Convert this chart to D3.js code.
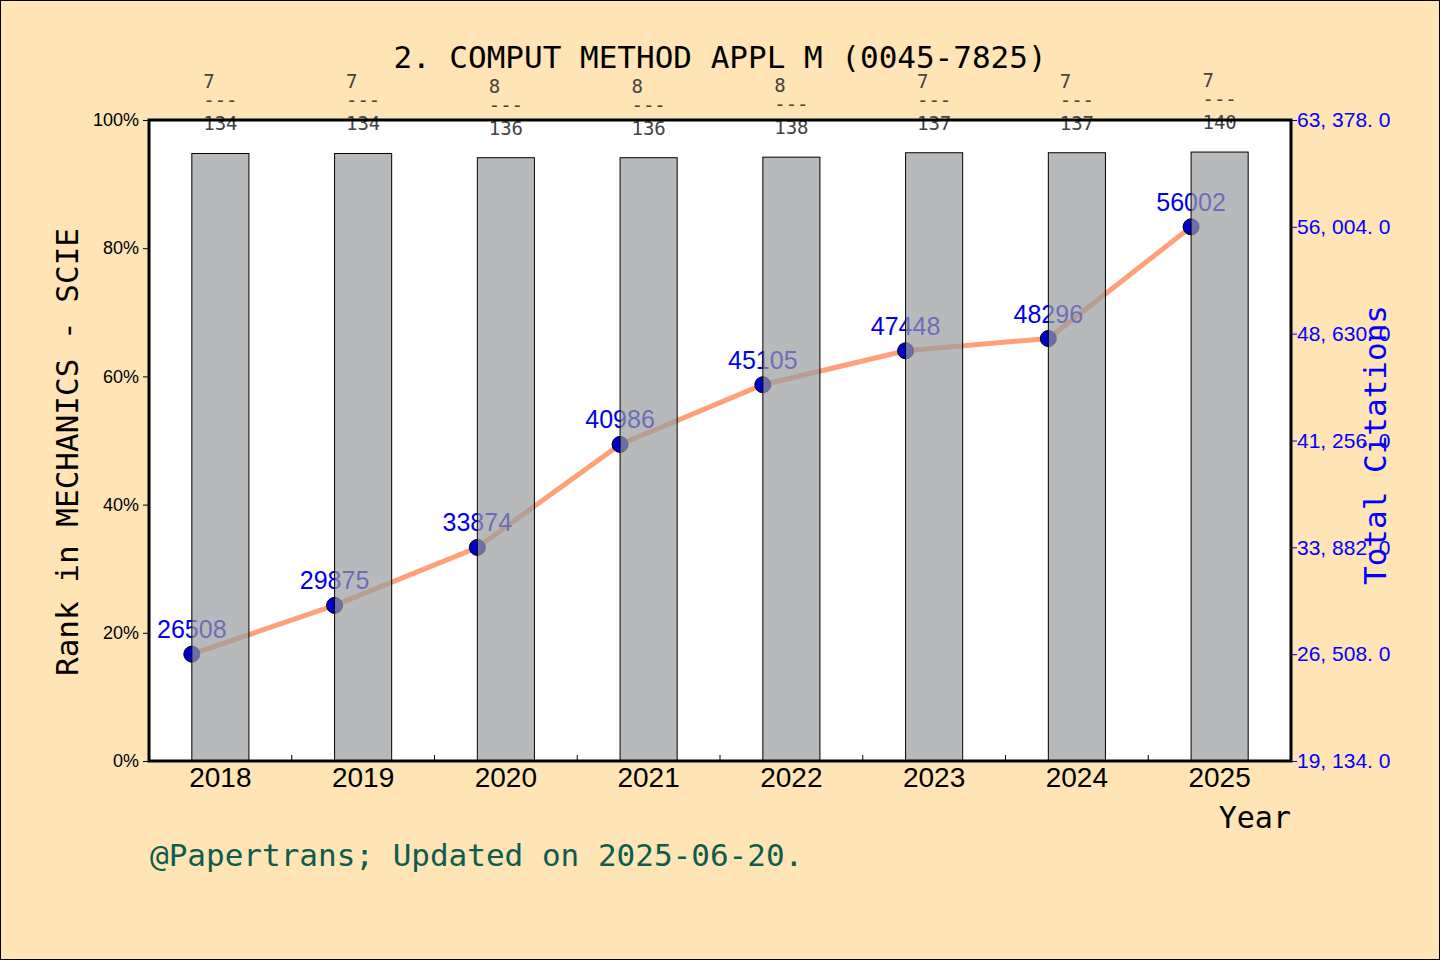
<!DOCTYPE html>
<html>
<head>
<meta charset="utf-8">
<script src="https://cdn.jsdelivr.net/npm/d3@7"></script>
<style>
  body { margin: 0; background: #ffe4b5; }
  svg { display: block; }
</style>
</head>
<body>
<div id="chart"></div>
<script>
const years = ["2018", "2019", "2020", "2021", "2022", "2023", "2024", "2025"];
const ranks = [7, 7, 8, 8, 8, 7, 7, 7];
const totals = [134, 134, 136, 136, 138, 137, 137, 140];
const citations = [26508, 29875, 33874, 40986, 45105, 47448, 48296, 56002];
const rankTicks = [0, 20, 40, 60, 80, 100];
const citeTicks = [19134, 26508, 33882, 41256, 48630, 56004, 63378];

(function () {
  const [width, height] = [1440, 960];
  const [left, right, top, bottom] = [149, 1291, 120, 761];
  const mono = "'DejaVu Sans Mono', monospace";
  const sans = "'Liberation Sans', Arial, sans-serif";

  const svg = d3.select("#chart")
    .append("svg")
    .attr("width", width)
    .attr("height", height);

  svg.append("rect")
    .attr("x", 0.5).attr("y", 0.5)
    .attr("width", width - 1).attr("height", height - 1)
    .attr("fill", "#ffe4b5")
    .attr("stroke", "#000");

  const x = d3.scaleBand().domain(years).range([left, right]).padding(0);
  const y = d3.scaleLinear().domain([0, 100]).range([bottom, top]);
  const yr = d3.scaleLinear().domain([19134, 63378]).range([bottom, top]);

  const pct = years.map((d, i) => (1 - ranks[i] / totals[i]) * 100);
  const barW = x.bandwidth() * 0.4;
  const cx = d => x(d) + x.bandwidth() / 2;
  const px = d => cx(d) - barW / 2;

  svg.append("rect")
    .attr("x", left).attr("y", top)
    .attr("width", right - left).attr("height", bottom - top)
    .attr("fill", "#fff");

  // citations line + points + labels (bars go over them)
  svg.append("path")
    .datum(citations)
    .attr("fill", "none")
    .attr("stroke", "#ffa07a")
    .attr("stroke-width", 5)
    .attr("d", d3.line().x((d, i) => px(years[i])).y(d => yr(d)));

  svg.selectAll("circle.pt")
    .data(citations)
    .enter().append("circle")
    .attr("class", "pt")
    .attr("cx", (d, i) => px(years[i]))
    .attr("cy", d => yr(d))
    .attr("r", 8)
    .attr("fill", "#0000cd")
    .attr("stroke", "#000")
    .attr("stroke-width", 1);

  svg.selectAll("text.cite")
    .data(citations)
    .enter().append("text")
    .attr("class", "cite")
    .attr("x", (d, i) => px(years[i]))
    .attr("y", d => yr(d) - 16)
    .attr("text-anchor", "middle")
    .attr("font-family", sans)
    .attr("font-size", 25)
    .attr("fill", "#0000ee")
    .text(d => d);

  svg.selectAll("rect.bar")
    .data(pct)
    .enter().append("rect")
    .attr("class", "bar")
    .attr("x", (d, i) => px(years[i]))
    .attr("y", d => y(d))
    .attr("width", barW)
    .attr("height", d => bottom - y(d))
    .attr("fill", "#9a9b9e")
    .attr("fill-opacity", 0.7)
    .attr("stroke", "#000")
    .attr("stroke-width", 1);

  // rank / total labels above bars, lines left aligned in a centred block
  const half = 0.602 * 19 * 1.5;
  const lab = svg.selectAll("g.lab")
    .data(pct)
    .enter().append("g")
    .attr("class", "lab")
    .attr("font-family", mono)
    .attr("font-size", 19)
    .attr("fill", "#444");
  lab.append("text")
    .attr("x", (d, i) => cx(years[i]) - half)
    .attr("y", d => y(d) - 65)
    .text((d, i) => ranks[i]);
  lab.append("text")
    .attr("x", (d, i) => cx(years[i]) - half)
    .attr("y", d => y(d) - 46)
    .text("---");
  lab.append("text")
    .attr("x", (d, i) => cx(years[i]) - half)
    .attr("y", d => y(d) - 23)
    .text((d, i) => totals[i]);

  // axes
  const yAxis = svg.append("g")
    .attr("transform", `translate(${left},0)`)
    .call(d3.axisLeft(y).tickValues(rankTicks).tickSize(6).tickFormat(d => d + "%"));
  yAxis.select(".domain").remove();
  yAxis.selectAll("text").attr("font-family", sans).attr("font-size", 18).attr("fill", "#000").attr("dx", -1);

  const fmt = d3.format(",.1f");
  const rAxis = svg.append("g")
    .attr("transform", `translate(${right},0)`)
    .call(d3.axisRight(yr).tickValues(citeTicks).tickSize(6)
      .tickFormat(d => fmt(d).replace(",", ", ").replace(".", ". ")));
  rAxis.select(".domain").remove();
  rAxis.selectAll("line").attr("stroke", "#0000ff");
  rAxis.selectAll("text").attr("font-family", sans).attr("font-size", 21).attr("fill", "#0000ff").attr("dx", -3);

  const bounds = years.slice(1).map(d => x(d));
  svg.selectAll("line.xt")
    .data(bounds)
    .enter().append("line")
    .attr("class", "xt")
    .attr("x1", d => d).attr("x2", d => d)
    .attr("y1", bottom).attr("y2", bottom - 6)
    .attr("stroke", "#000");

  svg.selectAll("text.year")
    .data(years)
    .enter().append("text")
    .attr("class", "year")
    .attr("x", d => cx(d))
    .attr("y", 787)
    .attr("text-anchor", "middle")
    .attr("font-family", sans)
    .attr("font-size", 28)
    .attr("fill", "#000")
    .text(d => d);

  svg.append("rect")
    .attr("x", left).attr("y", top)
    .attr("width", right - left).attr("height", bottom - top)
    .attr("fill", "none")
    .attr("stroke", "#000")
    .attr("stroke-width", 3);

  // titles
  svg.append("text")
    .attr("x", 720).attr("y", 68)
    .attr("text-anchor", "middle")
    .attr("font-family", mono).attr("font-size", 31)
    .attr("fill", "#000")
    .text("2. COMPUT METHOD APPL M (0045-7825)");

  svg.append("text")
    .attr("transform", "translate(78,452) rotate(-90)")
    .attr("text-anchor", "middle")
    .attr("font-family", mono).attr("font-size", 31)
    .attr("fill", "#000")
    .text("Rank in MECHANICS - SCIE");

  svg.append("text")
    .attr("transform", "translate(1386,445) rotate(-90)")
    .attr("text-anchor", "middle")
    .attr("font-family", mono).attr("font-size", 31)
    .attr("fill", "#0000ff")
    .text("Total Citations");

  svg.append("text")
    .attr("x", right).attr("y", 828)
    .attr("text-anchor", "end")
    .attr("font-family", mono).attr("font-size", 30)
    .attr("fill", "#000")
    .text("Year");

  svg.append("text")
    .attr("x", 150).attr("y", 866)
    .attr("font-family", mono).attr("font-size", 31)
    .attr("fill", "#0e5c4e")
    .text("@Papertrans; Updated on 2025-06-20.");
})();
</script>
</body>
</html>
